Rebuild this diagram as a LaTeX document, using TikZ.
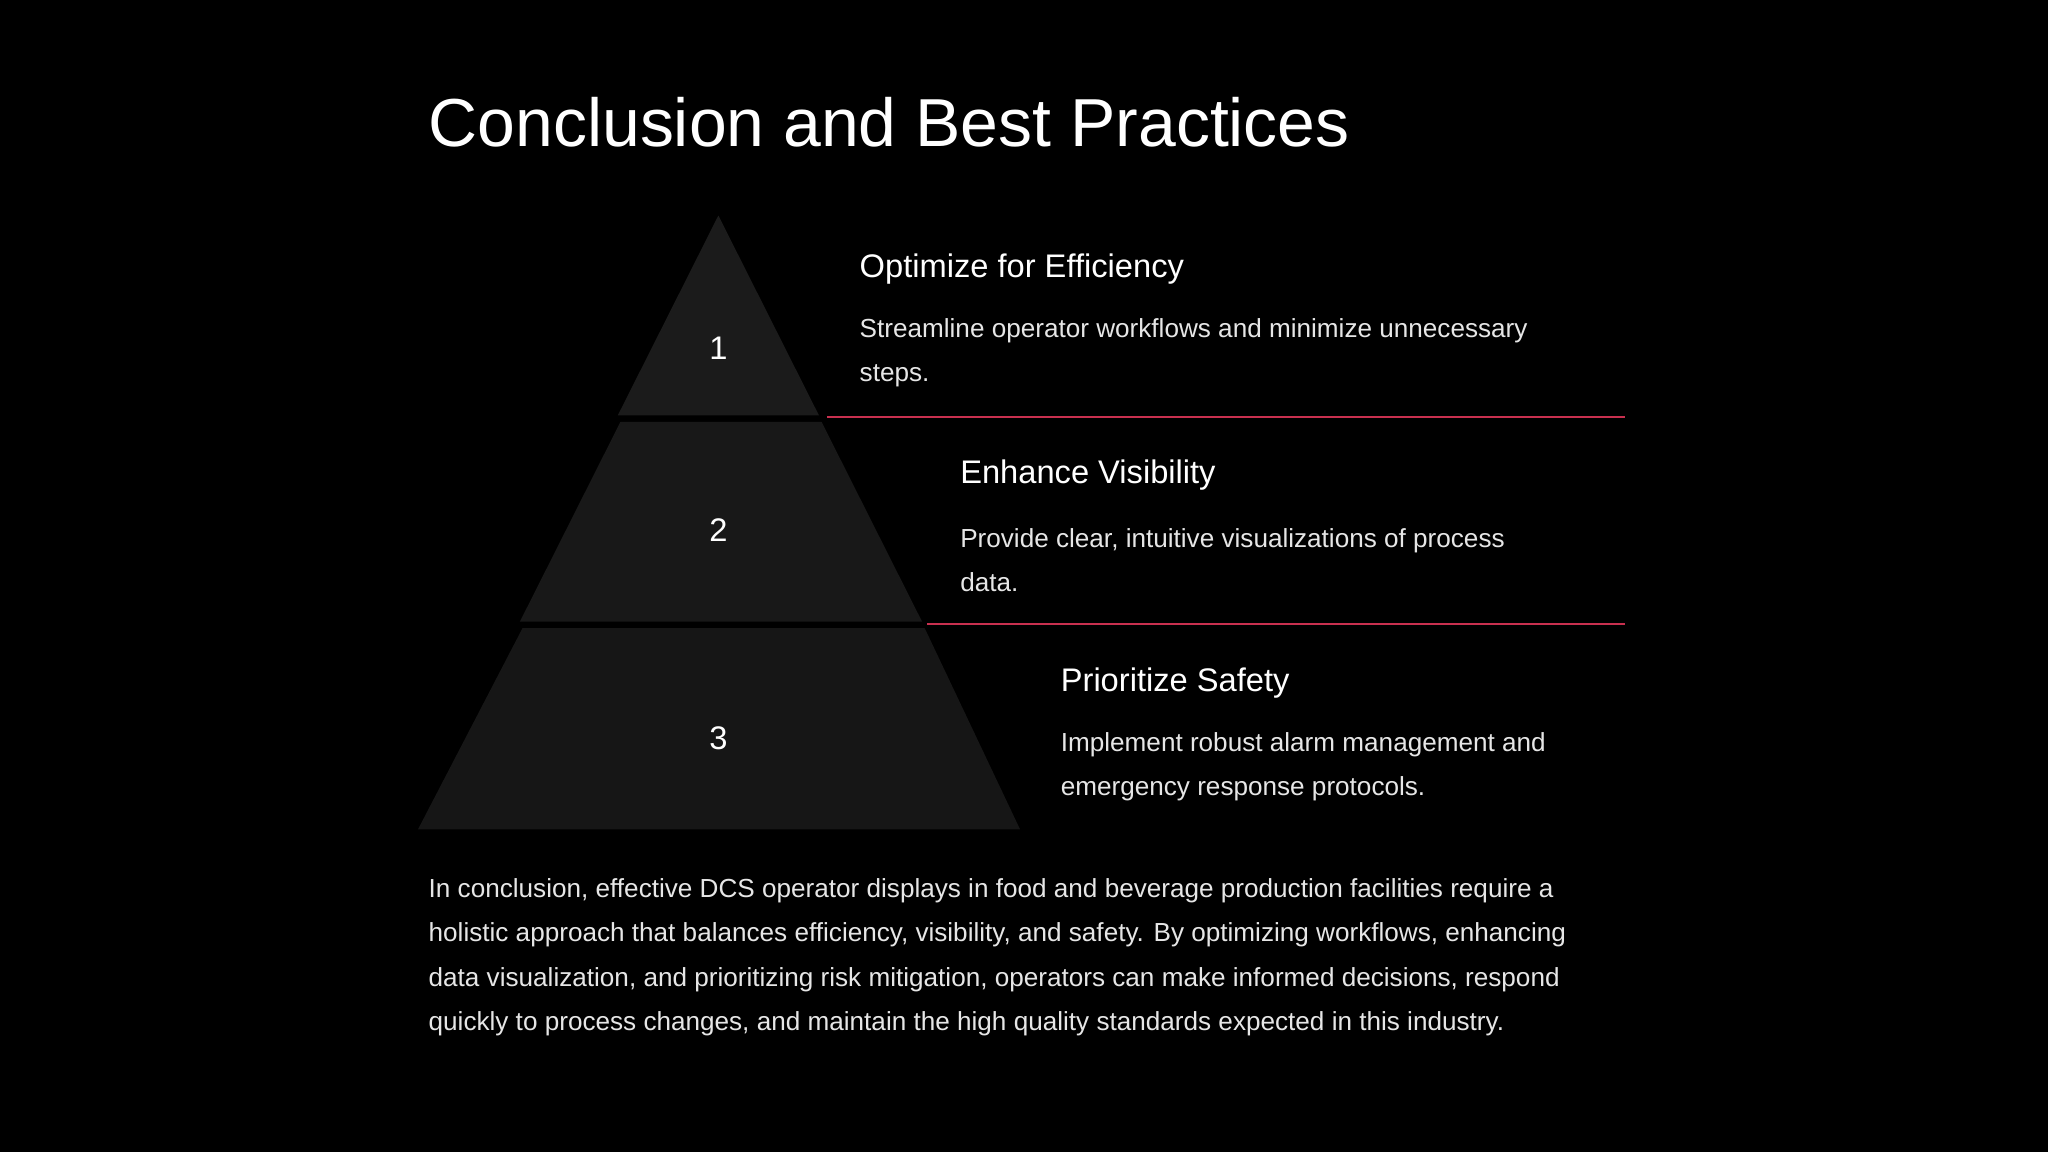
\documentclass[tikz,border=0pt]{standalone}
\usepackage{fontspec}
\setmainfont{Liberation Sans}
\definecolor{tierA}{HTML}{1B1B1B}
\definecolor{tierB}{HTML}{181818}
\definecolor{tierC}{HTML}{161616}
\definecolor{accent}{HTML}{C8304F}
\definecolor{bodytxt}{HTML}{E6E6E6}
\begin{document}
\begin{tikzpicture}[x=1pt,y=-1pt,
  head/.style={anchor=west,text=white,font=\fontsize{25}{30}\selectfont,inner sep=0},
  body/.style={anchor=west,text=bodytxt,font=\fontsize{20}{34}\selectfont,inner sep=0,align=left},
  num/.style={text=white,font=\fontsize{25}{30}\selectfont,inner sep=0},
  sep/.style={draw=accent,line width=1.5pt}]
\fill[black] (0,0) rectangle (1568,882);
\useasboundingbox (0,0) rectangle (1568,882);
\node[anchor=base west,text=white,font=\fontsize{52}{60}\selectfont,inner sep=0] (title) at (328,112) {Conclusion and Best Practices};
% pyramid tiers
\fill[tierA] (550,165) -- (627,318) -- (473,318) -- cycle;
\fill[tierB] (475,323) -- (629,323) -- (706,476) -- (398,476) -- cycle;
\fill[tierC] (400,481) -- (708,481) -- (781,635) -- (320,635) -- cycle;
\node[num] (n1) at (550,267) {1};
\node[num] (n2) at (550,406) {2};
\node[num] (n3) at (550,565) {3};
\coordinate (l1a) at (633,319); \coordinate (l1b) at (1244,319);
\coordinate (l2a) at (710,478); \coordinate (l2b) at (1244,478);
\draw[sep] (l1a) -- (l1b);
\draw[sep] (l2a) -- (l2b);
\node[head] (h1) at (658,206) {Optimize for Efficiency};
\node[body] (b1) at (658,270) {Streamline operator workflows and minimize unnecessary\\steps.};
\node[head] (h2) at (735,364) {Enhance Visibility};
\node[body] (b2) at (735,429) {Provide clear, intuitive visualizations of process\\data.};
\node[head] (h3) at (812,523) {Prioritize Safety};
\node[body] (b3) at (812,587) {Implement robust alarm management and\\emergency response protocols.};
\node[body] (concl) at (328,733) {In conclusion, effective DCS operator displays in food and beverage production facilities require a\\holistic approach that balances efficiency, visibility, and safety. By optimizing workflows, enhancing\\data visualization, and prioritizing risk mitigation, operators can make informed decisions, respond\\quickly to process changes, and maintain the high quality standards expected in this industry.};
\end{tikzpicture}
\end{document}
